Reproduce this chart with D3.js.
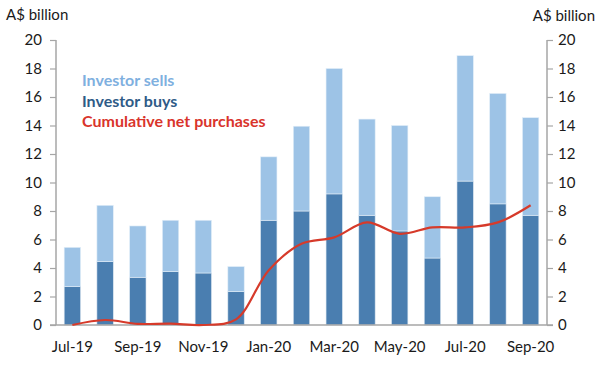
<!DOCTYPE html>
<html>
<head>
<meta charset="utf-8">
<script src="https://cdn.jsdelivr.net/npm/d3@7"></script>
<style>
  body { margin: 0; background: #fff; }
  svg text { font-family: Lato, 'Open Sans', sans-serif; fill: #1a1a1a; }
</style>
</head>
<body>
<div id="container"></div>
<script>
const months = ['Jul-19', 'Aug-19', 'Sep-19', 'Oct-19', 'Nov-19', 'Dec-19', 'Jan-20', 'Feb-20',
  'Mar-20', 'Apr-20', 'May-20', 'Jun-20', 'Jul-20', 'Aug-20', 'Sep-20'];
const buys = [2.7, 4.45, 3.35, 3.75, 3.65, 2.35, 7.35, 8.0, 9.2, 7.7, 6.6, 4.7, 10.1, 8.5, 7.7];
const sells = [2.75, 3.95, 3.6, 3.6, 3.7, 1.75, 4.45, 5.95, 8.8, 6.75, 7.4, 4.3, 8.8, 7.75, 6.85];
const cumulative = [0.0, 0.35, 0.08, 0.1, 0.0, 0.4, 3.85, 5.7, 6.15, 7.2, 6.4, 6.85, 6.85, 7.2, 8.4];
const yTicks = [0, 2, 4, 6, 8, 10, 12, 14, 16, 18, 20];
const xLabels = ['Jul-19', 'Sep-19', 'Nov-19', 'Jan-20', 'Mar-20', 'May-20', 'Jul-20', 'Sep-20'];

const svgWidth = 600;
const svgHeight = 391;
const margin = { top: 40, right: 53, bottom: 66, left: 56 };
const width = svgWidth - margin.left - margin.right;
const height = svgHeight - margin.top - margin.bottom;

const svg = d3
  .select('#container')
  .append('svg')
  .attr('width', svgWidth)
  .attr('height', svgHeight);

const g = svg.append('g').attr('transform', `translate(${margin.left},${margin.top})`);

const x = d3.scaleBand().domain(months).range([0, width]).paddingInner(0.5).paddingOuter(0.25);
const y = d3.scaleLinear().domain([0, 20]).range([height, 0]);

// Bars
const rows = months.map((m, i) => ({ month: m, buys: buys[i], sells: sells[i] }));

g.selectAll('.buy')
  .data(rows)
  .enter()
  .append('rect')
  .attr('x', d => x(d.month))
  .attr('y', d => y(d.buys))
  .attr('width', x.bandwidth())
  .attr('height', d => y(0) - y(d.buys))
  .attr('fill', '#4a7eb0')
  .attr('stroke', '#dbe6f1')
  .attr('stroke-width', 0.6);

g.selectAll('.sell')
  .data(rows)
  .enter()
  .append('rect')
  .attr('x', d => x(d.month))
  .attr('y', d => y(d.buys + d.sells))
  .attr('width', x.bandwidth())
  .attr('height', d => y(d.buys) - y(d.buys + d.sells))
  .attr('fill', '#9dc3e6')
  .attr('stroke', '#e3eef8')
  .attr('stroke-width', 0.6);

// Axes
const axisColor = '#a6a6a6';
const leftAxis = g.append('g').call(d3.axisLeft(y).tickValues(yTicks).tickSize(6).tickPadding(8));
const rightAxis = g
  .append('g')
  .attr('transform', `translate(${width},0)`)
  .call(d3.axisRight(y).tickValues(yTicks).tickSize(6).tickPadding(5));

[leftAxis, rightAxis].forEach(a => {
  a.select('.domain').attr('stroke', axisColor).attr('stroke-width', 1.5);
  a.selectAll('.tick line').attr('stroke', axisColor).attr('stroke-width', 1.2);
  a.selectAll('text').style('font-size', '15px').attr('fill', '#1a1a1a');
});
leftAxis.select('.domain').attr('d', `M0,${height}V0`);
rightAxis.select('.domain').attr('d', `M0,${height}V0`);

// Baseline
g.append('line')
  .attr('x1', -6)
  .attr('x2', width + 6)
  .attr('y1', y(0))
  .attr('y2', y(0))
  .attr('stroke', axisColor)
  .attr('stroke-width', 1.5);

// X labels
g.selectAll('.xlabel')
  .data(xLabels)
  .enter()
  .append('text')
  .attr('x', d => x(d) + x.bandwidth() / 2)
  .attr('y', height + 27)
  .attr('text-anchor', 'middle')
  .style('font-size', '15px')
  .text(d => d);

// Cumulative line
const line = d3
  .line()
  .x((d, i) => x(months[i]) + x.bandwidth() / 2)
  .y(d => y(d))
  .curve(d3.curveCatmullRom.alpha(0.5));

g.append('path')
  .datum(cumulative)
  .attr('d', line)
  .attr('fill', 'none')
  .attr('stroke', '#d63a2a')
  .attr('stroke-width', 2.2);

// Units
svg.append('text').attr('x', 6).attr('y', 20).style('font-size', '15px').text('A$ billion');
svg.append('text').attr('x', 595).attr('y', 21).attr('text-anchor', 'end').style('font-size', '15px').text('A$ billion');

// Legend
const legend = [
  { label: 'Investor sells', color: '#7fb0df' },
  { label: 'Investor buys', color: '#2f5b87' },
  { label: 'Cumulative net purchases', color: '#d9342b' }
];
svg
  .selectAll('.legend')
  .data(legend)
  .enter()
  .append('text')
  .attr('x', 82)
  .attr('y', (d, i) => 86 + i * 20.5)
  .style('font-size', '16px')
  .style('font-weight', 'bold')
  .style('fill', d => d.color)
  .text(d => d.label);
</script>
</body>
</html>
